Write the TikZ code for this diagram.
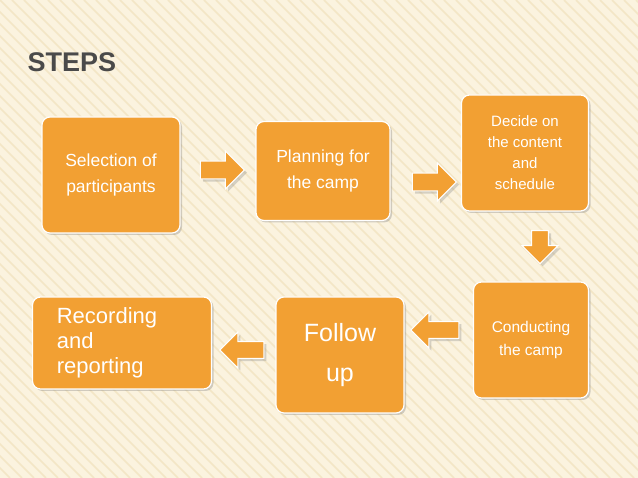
\documentclass[tikz,border=0pt]{standalone}
\usepackage{fontspec}
\setmainfont{Liberation Sans}
\usetikzlibrary{shapes.arrows,shadows}
\definecolor{bg}{HTML}{FBF3DF}
\definecolor{stripe}{HTML}{F3E6C6}
\definecolor{box}{HTML}{F2A033}
\definecolor{ttl}{HTML}{4A4A4A}
\begin{document}
\begin{tikzpicture}[x=1pt,y=-1pt,
 bx/.style={draw=white,line width=1.2pt,fill=box,rounded corners=8pt,text=white,align=center,drop shadow={opacity=0.35,shadow xshift=2pt,shadow yshift=-2pt},inner sep=2pt},
 ar/.style={single arrow,draw=white,line width=1pt,fill=box,minimum height=44pt,minimum width=36pt,single arrow head extend=4pt,inner sep=3pt,drop shadow={opacity=0.3}}]
\useasboundingbox (0,0) rectangle (638,478);
\begin{scope}
\clip (0,0) rectangle (638,478);
\fill[bg] (0,0) rectangle (638,478);
\foreach \i in {-40,...,60}{\draw[stripe,line width=1.5pt] (\i*12,0) -- (\i*12+478,478);}
\end{scope}
\node[anchor=west,text=ttl,font=\bfseries\fontsize{27}{27}\selectfont] (t) at (24,62) {STEPS};
\node[bx,minimum width=138pt,minimum height=116pt,font=\fontsize{17.5}{26}\selectfont] (a) at (111,175) {Selection of\\participants};
\node[bx,minimum width=134pt,minimum height=99pt,font=\fontsize{17.5}{26}\selectfont] (b) at (323,171) {Planning for\\the camp};
\node[bx,minimum width=127pt,minimum height=116pt,font=\fontsize{15}{21}\selectfont] (c) at (525,153) {Decide on\\the content\\and\\schedule};
\node[bx,minimum width=115pt,minimum height=116pt,font=\fontsize{15.5}{23}\selectfont] (d) at (531,340) {Conducting\\the camp};
\node[bx,minimum width=128pt,minimum height=116pt,font=\fontsize{25}{40}\selectfont] (e) at (340,355) {Follow\\up};
\node[bx,minimum width=179pt,minimum height=92pt,align=left,font=\fontsize{22}{25}\selectfont] (f) at (122,343) {\hspace*{-30pt}Recording\\\hspace*{-30pt}and\\\hspace*{-30pt}reporting};
\node[ar,minimum height=44pt,minimum width=38pt] (r1) at (218,170) {};
\node[ar,minimum height=44pt,minimum width=38pt] (r2) at (430,182) {};
\node[ar,minimum height=33pt,minimum width=36pt,rotate=-90] (r3) at (540,243) {};
\node[ar,minimum height=48pt,minimum width=36pt,shape border rotate=180] (r4) at (439,330) {};
\node[ar,minimum height=44pt,minimum width=36pt,shape border rotate=180] (r5) at (246,350) {};
\end{tikzpicture}
\end{document}
